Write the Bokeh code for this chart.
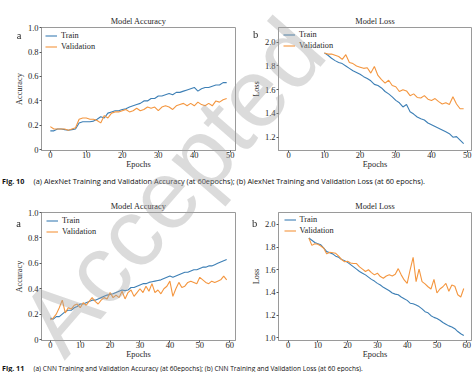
import math
from bokeh.plotting import figure
from bokeh.models import Label, Legend, LegendItem, FixedTicker, Range1d
from bokeh.layouts import column, row
from bokeh.embed import file_html
from bokeh.resources import INLINE

# ---------------- data ----------------
alex_epochs = list(range(50))
alex_train_acc = [0.155, 0.155, 0.17, 0.17, 0.165, 0.16, 0.165, 0.17, 0.22, 0.23,
                  0.23, 0.23, 0.235, 0.25, 0.27, 0.26, 0.30, 0.31, 0.32, 0.32,
                  0.33, 0.335, 0.35, 0.36, 0.37, 0.38, 0.40, 0.40, 0.42, 0.42,
                  0.44, 0.44, 0.45, 0.46, 0.45, 0.47, 0.47, 0.48, 0.49, 0.50,
                  0.51, 0.48, 0.50, 0.51, 0.51, 0.52, 0.53, 0.53, 0.55, 0.55]
alex_val_acc = [0.19, 0.17, 0.17, 0.17, 0.17, 0.16, 0.17, 0.18, 0.25, 0.26,
                0.26, 0.25, 0.25, 0.24, 0.22, 0.28, 0.26, 0.30, 0.31, 0.31,
                0.32, 0.33, 0.31, 0.32, 0.34, 0.32, 0.33, 0.35, 0.34, 0.35,
                0.32, 0.35, 0.36, 0.35, 0.33, 0.36, 0.37, 0.38, 0.36, 0.38,
                0.36, 0.39, 0.37, 0.36, 0.38, 0.36, 0.40, 0.39, 0.41, 0.42]
alex_loss_epochs = list(range(10, 50))
alex_train_loss = [1.91, 1.89, 1.865, 1.845, 1.83, 1.82, 1.80, 1.78, 1.76, 1.745,
                   1.73, 1.71, 1.695, 1.675, 1.645, 1.635, 1.615, 1.585, 1.565, 1.54,
                   1.51, 1.49, 1.455, 1.475, 1.415, 1.395, 1.37, 1.355, 1.345, 1.32,
                   1.305, 1.29, 1.275, 1.26, 1.245, 1.23, 1.20, 1.205, 1.175, 1.145]
alex_val_loss = [1.91, 1.90, 1.90, 1.89, 1.88, 1.855, 1.895, 1.83, 1.82, 1.80,
                 1.79, 1.78, 1.785, 1.74, 1.795, 1.72, 1.685, 1.655, 1.68, 1.635,
                 1.625, 1.585, 1.60, 1.59, 1.55, 1.565, 1.535, 1.53, 1.55, 1.52,
                 1.51, 1.525, 1.50, 1.48, 1.49, 1.475, 1.54, 1.48, 1.44, 1.44]

cnn_epochs = list(range(60))
cnn_train_acc = [0.17, 0.16, 0.18, 0.18, 0.20, 0.22, 0.23, 0.23, 0.25, 0.26,
                 0.28, 0.28, 0.29, 0.30, 0.31, 0.31, 0.32, 0.33, 0.34, 0.35,
                 0.355, 0.36, 0.37, 0.38, 0.39, 0.385, 0.39, 0.41, 0.41, 0.42,
                 0.43, 0.44, 0.44, 0.45, 0.455, 0.46, 0.465, 0.47, 0.48, 0.49,
                 0.50, 0.49, 0.50, 0.51, 0.52, 0.53, 0.53, 0.54, 0.55, 0.55,
                 0.56, 0.57, 0.57, 0.58, 0.58, 0.59, 0.60, 0.61, 0.62, 0.63]
cnn_val_acc = [0.155, 0.17, 0.20, 0.25, 0.31, 0.21, 0.25, 0.24, 0.27, 0.28,
               0.25, 0.29, 0.27, 0.30, 0.33, 0.30, 0.28, 0.31, 0.33, 0.32,
               0.37, 0.33, 0.35, 0.33, 0.38, 0.32, 0.37, 0.39, 0.34, 0.37,
               0.40, 0.37, 0.42, 0.38, 0.44, 0.37, 0.39, 0.36, 0.40, 0.42,
               0.46, 0.34, 0.40, 0.45, 0.41, 0.42, 0.45, 0.46, 0.45, 0.44,
               0.49, 0.47, 0.45, 0.44, 0.46, 0.45, 0.46, 0.47, 0.50, 0.47]
cnn_loss_epochs = list(range(7, 60))
cnn_train_loss = [1.88, 1.86, 1.84,
                  1.83, 1.82, 1.79, 1.76, 1.75, 1.74, 1.72, 1.71, 1.69, 1.68,
                  1.665, 1.645, 1.625, 1.605, 1.585, 1.57, 1.555, 1.535, 1.515, 1.50,
                  1.48, 1.465, 1.445, 1.43, 1.415, 1.395, 1.385, 1.38, 1.36, 1.345,
                  1.33, 1.305, 1.30, 1.29, 1.275, 1.255, 1.23, 1.22, 1.195, 1.18,
                  1.17, 1.155, 1.135, 1.12, 1.105, 1.095, 1.08, 1.055, 1.035, 1.02]
cnn_val_loss = [1.88, 1.815, 1.83,
                1.825, 1.81, 1.79, 1.74, 1.755, 1.75, 1.745, 1.72, 1.69, 1.67,
                1.675, 1.66, 1.655, 1.655, 1.625, 1.605, 1.585, 1.60, 1.575, 1.555,
                1.57, 1.54, 1.525, 1.545, 1.555, 1.545, 1.56, 1.61, 1.555, 1.51,
                1.48, 1.60, 1.71, 1.495, 1.605, 1.495, 1.475, 1.45, 1.43, 1.515,
                1.395, 1.43, 1.45, 1.48, 1.41, 1.465, 1.455, 1.38, 1.36, 1.435]

alex_x_ticks = [0, 10, 20, 30, 40, 50]
cnn_x_ticks = [0, 10, 20, 30, 40, 50, 60]
acc_ticks = [0, 0.2, 0.4, 0.6, 0.8, 1.0]
acc_tick_labels = ["0", "0.2", "0.4", "0.6", "0.8", "1.0"]
alex_loss_ticks = [1.2, 1.4, 1.6, 1.8, 2.0]
alex_loss_tick_labels = ["1.2", "1.4", "1.6", "1.8", "2.0"]
cnn_loss_ticks = [1.0, 1.2, 1.4, 1.6, 1.8, 2.0]
cnn_loss_tick_labels = ["1.0", "1.2", "1.4", "1.6", "1.8", "2.0"]

series_names = ["Train", "Validation"]
titles = ["Model Accuracy", "Model Loss"]
panel_letters = ["a", "b", "a", "b"]
caption_10_head = "Fig. 10"
caption_10_body = ("(a) AlexNet Training and Validation Accuracy (at 60epochs); "
                   "(b) AlexNet Training and Validation Loss (at 60 epochs).")
caption_11_head = "Fig. 11"
caption_11_body = ("(a) CNN Training and Validation Accuracy (at 60epochs); "
                   "(b) CNN Training and Validation Loss (at 60 epochs).")
watermark_text = "Accepted"

# ---------------- styling ----------------
BLUE = "#3d7fb5"
ORANGE = "#f4963f"
TXT = "#262626"
FRAME = "#9a9a9a"
SERIF = "Liberation Serif"
SANS = "Open Sans"
W, H = 472, 372


def make_plot(w, h, fl, fr, ft, fb, xr, yr, title, ylabel, x, ys, xticks, yticks,
              ylabels, legend_pos):
    p = figure(width=w, height=h, x_range=Range1d(*xr), y_range=Range1d(*yr),
               output_backend="svg", toolbar_location=None, title=title,
               min_border_left=fl, min_border_right=fr,
               min_border_top=ft, min_border_bottom=fb)
    p.title.align = "center"
    p.title.text_font = SERIF
    p.title.text_font_style = "normal"
    p.title.text_font_size = "8.3px"
    p.title.text_color = TXT
    p.title.standoff = 3
    p.outline_line_color = FRAME
    p.outline_line_width = 1
    p.xgrid.grid_line_color = None
    p.ygrid.grid_line_color = None

    p.xaxis.ticker = FixedTicker(ticks=xticks)
    p.yaxis.ticker = FixedTicker(ticks=yticks)
    p.yaxis.major_label_overrides = dict(zip(yticks, ylabels))
    p.xaxis.axis_label = "Epochs"
    p.yaxis.axis_label = ylabel
    for ax in (p.xaxis, p.yaxis):
        ax.axis_line_color = FRAME
        ax.major_tick_line_color = "#555555"
        ax.major_tick_out = 2
        ax.major_tick_in = 0
        ax.minor_tick_line_color = None
        ax.major_label_text_font = SERIF
        ax.major_label_text_font_size = "8.5px"
        ax.major_label_text_color = TXT
        ax.axis_label_text_font = SERIF
        ax.axis_label_text_font_style = "normal"
        ax.axis_label_text_font_size = "8.3px"
        ax.axis_label_text_color = TXT
    p.xaxis.major_label_standoff = -1
    p.xaxis.axis_label_standoff = -1
    p.yaxis.major_label_standoff = 1
    p.yaxis.axis_label_standoff = 1

    r_train = p.line(x, ys[0], line_color=BLUE, line_width=1.1)
    r_val = p.line(x, ys[1], line_color=ORANGE, line_width=1.1)
    legend = Legend(items=[LegendItem(label=series_names[0], renderers=[r_train]),
                           LegendItem(label=series_names[1], renderers=[r_val])],
                    location=legend_pos, padding=0, margin=0, spacing=-3,
                    glyph_width=12, glyph_height=11, label_height=11,
                    label_standoff=4, label_text_font=SERIF,
                    label_text_font_size="8.3px", label_text_color=TXT,
                    label_text_baseline="middle",
                    border_line_color=None, background_fill_alpha=0)
    p.add_layout(legend)
    return p


def make_caption(w, h, head, body, text_y, body_size):
    p = figure(width=w, height=h, x_range=Range1d(0, w), y_range=Range1d(0, h),
               output_backend="svg", toolbar_location=None,
               x_axis_type=None, y_axis_type=None, min_border=0,
               min_border_left=0, min_border_right=0,
               min_border_top=0, min_border_bottom=0)
    p.outline_line_color = None
    p.xgrid.grid_line_color = None
    p.ygrid.grid_line_color = None
    y = h - text_y
    p.add_layout(Label(x=1.5, y=y, text=head, text_font=SANS, text_font_style="bold",
                       text_font_size="7.2px", text_color="#111111",
                       text_align="left", text_baseline="middle"))
    p.add_layout(Label(x=33, y=y, text=body, text_font=SANS,
                       text_font_size=body_size, text_color="#111111",
                       text_align="left", text_baseline="middle"))
    return p


# row 1: figures 0..172 high, frames y 27..150
p1 = make_plot(237, 172, 41, 2, 27, 22, (-2.45, 51.45), (-0.0057, 1.0008),
               titles[0], "Accuracy", alex_epochs, [alex_train_acc, alex_val_acc],
               alex_x_ticks, acc_ticks, acc_tick_labels, (4, 123 - 24.5))
p2 = make_plot(235, 172, 41, 1, 27, 22, (-2.85, 51.2), (1.088, 2.124),
               titles[1], "Loss", alex_loss_epochs, [alex_train_loss, alex_val_loss],
               alex_x_ticks, alex_loss_ticks, alex_loss_tick_labels, (5, 123 - 23.5))
c1 = make_caption(W, 16, caption_10_head, caption_10_body, 8, "7.4px")
# row 2: figures 188..361 high, frames y 212..341
p3 = make_plot(237, 173, 41, 2, 24, 20, (-2.95, 61.95), (-0.0078, 1.0008),
               titles[0], "Accuracy", cnn_epochs, [cnn_train_acc, cnn_val_acc],
               cnn_x_ticks, acc_ticks, acc_tick_labels, (5, 129 - 25.5))
p4 = make_plot(235, 173, 41, 1, 24, 20, (-3.2, 61.6), (0.976, 2.105),
               titles[1], "Loss", cnn_loss_epochs, [cnn_train_loss, cnn_val_loss],
               cnn_x_ticks, cnn_loss_ticks, cnn_loss_tick_labels, (5.5, 129 - 25))
c2 = make_caption(W, 11, caption_11_head, caption_11_body, 5.5, "6.6px")

# transparent overlay (whole page, pixel coordinates) for panel letters + watermark
ov = figure(width=W, height=H, x_range=Range1d(0, W), y_range=Range1d(0, H),
            output_backend="svg", toolbar_location=None,
            x_axis_type=None, y_axis_type=None, min_border=0,
            min_border_left=0, min_border_right=0, min_border_top=0, min_border_bottom=0,
            background_fill_alpha=0, border_fill_alpha=0,
            styles={"position": "fixed", "left": "0px", "top": "0px",
                    "z-index": "10", "pointer-events": "none"})
ov.outline_line_color = None
ov.xgrid.grid_line_color = None
ov.ygrid.grid_line_color = None
letter_xy = [(18.5, 35), (255, 34), (18, 222.5), (254, 222.5)]
for t, (lx, ly) in zip(panel_letters, letter_xy):
    ov.add_layout(Label(x=lx, y=H - ly, text=t, text_font=SERIF,
                        text_font_size="10.5px", text_color=TXT,
                        text_align="center", text_baseline="middle"))
ov.add_layout(Label(x=38.7, y=H - 338.6, text=watermark_text, angle=math.radians(49),
                    text_font="Liberation Sans", text_font_size="97px",
                    text_color="#a0a0a0", text_alpha=0.38,
                    text_align="left", text_baseline="alphabetic"))

layout = column(row(p1, p2), c1, row(p3, p4), c2, ov)
open("out.html", "w").write(file_html(layout, INLINE))
